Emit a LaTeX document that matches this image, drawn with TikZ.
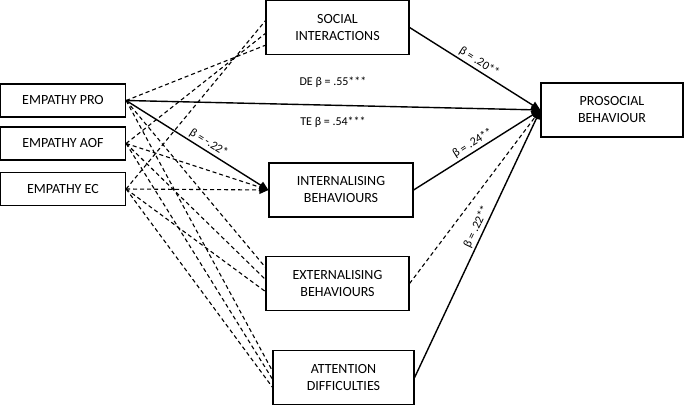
\documentclass[tikz,border=0pt]{standalone}
\usepackage{fontspec}
\setmainfont{Carlito}
\usetikzlibrary{arrows.meta}
\begin{document}
\begin{tikzpicture}[x=1pt,y=-1pt,
  box/.style={draw,line width=1.2pt,align=center,font=\fontsize{14}{17}\selectfont,inner sep=0pt},
  sol/.style={line width=1.4pt,-{Triangle[length=9pt,width=8pt]}},
  dsh/.style={line width=1.1pt,dash pattern=on 4pt off 3pt},
  dsha/.style={dsh,-{Triangle[length=9pt,width=8pt]}},
  lab/.style={font=\fontsize{12}{14}\selectfont,inner sep=2pt}]
\useasboundingbox (0,0) rectangle (685,406);
\node[box,minimum width=143pt,minimum height=54pt] (si) at (337.5,27.5) {SOCIAL\\INTERACTIONS};
\node[box,minimum width=142pt,minimum height=54pt] (pb) at (612,110) {PROSOCIAL\\BEHAVIOUR};
\node[box,minimum width=125pt,minimum height=33pt] (pro) at (63,100.5) {EMPATHY PRO};
\node[box,minimum width=125pt,minimum height=33pt] (aof) at (63,143.5) {EMPATHY AOF};
\node[box,minimum width=125pt,minimum height=33pt] (ec) at (63,189) {EMPATHY EC};
\node[box,minimum width=144pt,minimum height=54pt] (int) at (341,190) {INTERNALISING\\BEHAVIOURS};
\node[box,minimum width=143pt,minimum height=54pt] (ext) at (337.5,283.5) {EXTERNALISING\\BEHAVIOURS};
\node[box,minimum width=141pt,minimum height=54pt] (att) at (343.5,377.5) {ATTENTION\\DIFFICULTIES};
\coordinate (s1) at (266,20); \coordinate (s2) at (266,33); \coordinate (s3) at (266,45);
\coordinate (e1) at (266,268); \coordinate (e2) at (266,280); \coordinate (e3) at (266,292);
\coordinate (a1) at (273,372); \coordinate (a2) at (273,380); \coordinate (a3) at (273,388);
% dashed
\draw[dsh] (pro.east) -- (s3);
\draw[dsh] (pro.east) -- (e1);
\draw[dsh] (pro.east) -- (a1);
\draw[dsh] (aof.east) -- (s2);
\draw[dsha] (aof.east) -- (int.west);
\draw[dsh] (aof.east) -- (e2);
\draw[dsh] (aof.east) -- (a2);
\draw[dsh] (ec.east) -- (s1);
\draw[dsha] (ec.east) -- (int.west);
\draw[dsh] (ec.east) -- (e3);
\draw[dsh] (ec.east) -- (a3);
% solid
\draw[sol] (pro.east) -- (int.west) node[lab,pos=0.55,sloped,above] {β = -.22*};
\draw[sol] (pro.east) -- (pb.west);
\node[lab] (de) at (333,82) {DE β = .55***};
\node[lab] (te) at (333,122) {TE β = .54***};
\draw[sol] (si.east) -- (pb.west) node[lab,midway,sloped,above] {β = .20**};
\draw[sol] (int.east) -- (pb.west) node[lab,midway,sloped,above] {β = .24**};
\draw[dsha] (ext.east) -- (pb.west);
\draw[sol] (att.east) -- (pb.west) node[lab,pos=0.55,sloped,above] {β = .22**};
\end{tikzpicture}
\end{document}
